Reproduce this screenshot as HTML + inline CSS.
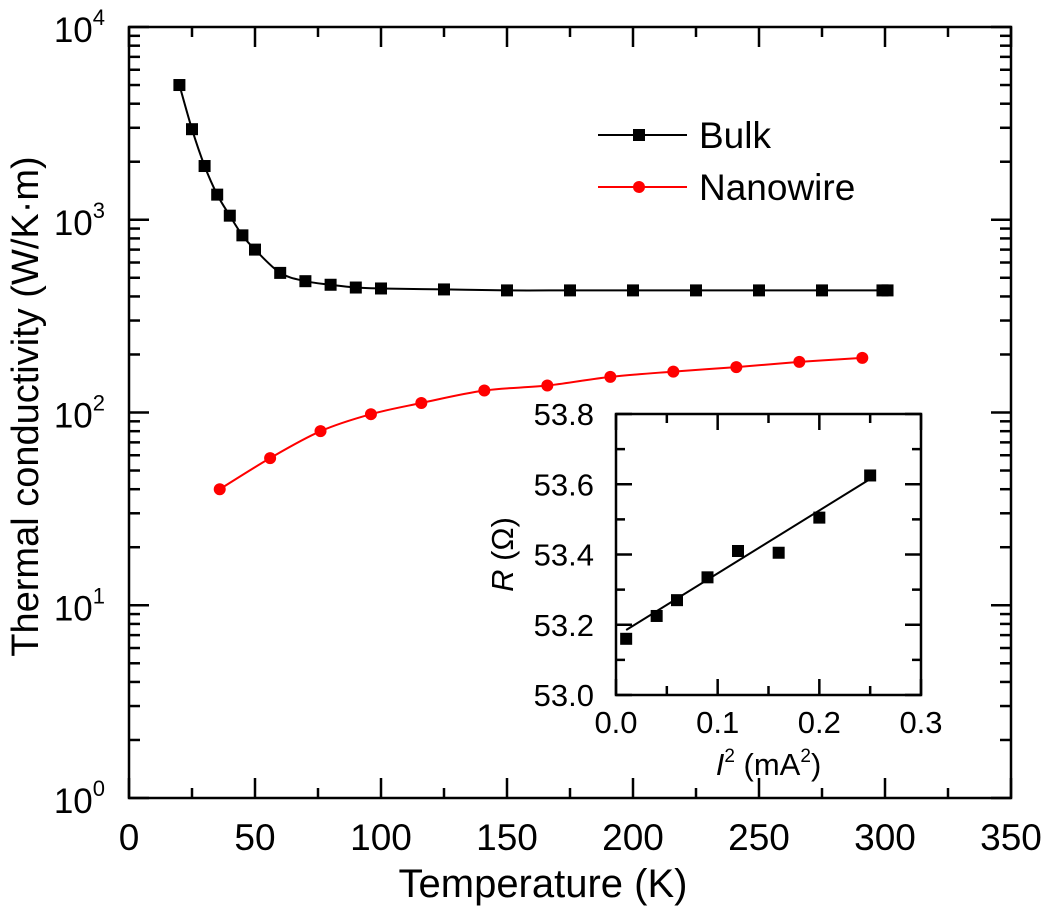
<!DOCTYPE html>
<html><head><meta charset="utf-8"><style>
body{margin:0;background:#fff}
svg{display:block;font-family:"Liberation Sans",Arial,sans-serif}
</style></head><body>
<svg id="chart" width="1050" height="914" viewBox="0 0 1050 914" xmlns="http://www.w3.org/2000/svg">
<g id="main"></g>
<g id="inset"></g>
</svg>
<script>
const bulkT=[20,25,30,35,40,45,50,60,70,80,90,100,125,150,175,200,225,250,275,299,301];
const bulkK=[5000,2950,1900,1350,1050,830,700,530,480,460,445,440,435,430,430,430,430,430,430,430,430];
const nanoT=[36,56,76,96,116,141,166,191,216,241,266,291];
const nanoK=[40,58,80,98,112,130,138,153,163,172,183,192];
const xTicks=[0,50,100,150,200,250,300,350];
const yDecades=[0,1,2,3,4];
const insetX=[0.01,0.04,0.06,0.09,0.12,0.16,0.2,0.25];
const insetR=[53.16,53.225,53.27,53.335,53.41,53.405,53.505,53.625];
const insetFit=[53.185,53.615];
const insetFitX=[0.01,0.25];
const insetXTicks=[0.0,0.1,0.2,0.3];
const insetYTicks=[53.0,53.2,53.4,53.6,53.8];

const NS="http://www.w3.org/2000/svg";
function mk(p,t,a){const e=document.createElementNS(NS,t);for(const k in a)e.setAttribute(k,a[k]);p.appendChild(e);return e;}
const L=129,R=1011,T=27,B=798;
const xs=v=>L+(v/350)*(R-L);
const ys=v=>B-(Math.log10(v)/4)*(B-T);
const main=document.getElementById('main');
let fr=mk(main,'rect',{x:L,y:T,width:R-L,height:B-T,fill:'none',stroke:'#000','stroke-width':2.5});


for(let v=0;v<=350;v+=25){const maj=v%50===0;const len=maj?20:10;
 mk(main,'line',{x1:xs(v),x2:xs(v),y1:B,y2:B-len,stroke:'#000','stroke-width':2.5});
 mk(main,'line',{x1:xs(v),x2:xs(v),y1:T,y2:T+len,stroke:'#000','stroke-width':2.5});}
xTicks.forEach(v=>{const t=mk(main,'text',{x:xs(v),y:B+52,'text-anchor':'middle','font-size':37});t.textContent=v;
 
 });
yDecades.forEach(d=>{const y=ys(Math.pow(10,d));
 mk(main,'line',{x1:L,x2:L+20,y1:y,y2:y,stroke:'#000','stroke-width':2.5});
 mk(main,'line',{x1:R,x2:R-20,y1:y,y2:y,stroke:'#000','stroke-width':2.5});
 if(d<4)for(let m=2;m<=9;m++){const yy=ys(m*Math.pow(10,d));
  mk(main,'line',{x1:L,x2:L+11,y1:yy,y2:yy,stroke:'#000','stroke-width':2.5});
  mk(main,'line',{x1:R,x2:R-11,y1:yy,y2:yy,stroke:'#000','stroke-width':2.5});}
 const t=mk(main,'text',{x:L-24,y:y+15,'text-anchor':'end','font-size':35});
 t.innerHTML='10<tspan dy="-17" font-size="22">'+d+'</tspan>';
 
 });
let xt=mk(main,'text',{x:543,y:897,'text-anchor':'middle','font-size':40});xt.textContent='Temperature (K)';


let yt=mk(main,'text',{x:0,y:0,'text-anchor':'middle','font-size':38,transform:'translate(38,'+((T+B)/2-6)+') rotate(-90)'});yt.textContent='Thermal conductivity (W/K·m)';


function smooth(px){let d='M'+px[0][0]+','+px[0][1];for(let i=0;i<px.length-1;i++){const p0=px[i-1]||px[i],p1=px[i],p2=px[i+1],p3=px[i+2]||p2;
 d+=' C'+(p1[0]+(p2[0]-p0[0])/6)+','+(p1[1]+(p2[1]-p0[1])/6)+' '+(p2[0]-(p3[0]-p1[0])/6)+','+(p2[1]-(p3[1]-p1[1])/6)+' '+p2[0]+','+p2[1];}return d;}
const bp=bulkT.map((t,i)=>[xs(t),ys(bulkK[i])]);
let bl=mk(main,'path',{d:smooth(bp),fill:'none',stroke:'#000','stroke-width':2});


bp.forEach(p=>{const r=mk(main,'rect',{x:p[0]-6,y:p[1]-6,width:12,height:12,fill:'#000'});
 
 });
const np=nanoT.map((t,i)=>[xs(t),ys(nanoK[i])]);
let nl=mk(main,'path',{d:smooth(np),fill:'none',stroke:'#f00','stroke-width':2});


np.forEach(p=>{const c=mk(main,'circle',{cx:p[0],cy:p[1],r:6,fill:'#f00'});
 
 });
const lg=mk(main,'g',{});


mk(lg,'line',{x1:598,x2:687,y1:135,y2:135,stroke:'#000','stroke-width':2});
mk(lg,'rect',{x:633,y:129,width:12,height:12,fill:'#000'});
let lt1=mk(lg,'text',{x:699,y:148,'font-size':37});lt1.textContent='Bulk';


mk(lg,'line',{x1:598,x2:687,y1:187,y2:187,stroke:'#f00','stroke-width':2});
mk(lg,'circle',{cx:639,cy:187,r:6,fill:'#f00'});
let lt2=mk(lg,'text',{x:699,y:200,'font-size':37});lt2.textContent='Nanowire';



const ins=document.getElementById('inset');


const iL=616,iR=921,iT=414,iB=695;
const ix=v=>iL+(v/0.3)*(iR-iL);
const iy=v=>iB-((v-53.0)/0.8)*(iB-iT);
mk(ins,'rect',{x:iL,y:iT,width:iR-iL,height:iB-iT,fill:'#fff',stroke:'#000','stroke-width':2.5});
for(let k=0;k<=6;k++){const v=k*0.05,maj=k%2===0,len=maj?16:9;
 mk(ins,'line',{x1:ix(v),x2:ix(v),y1:iB,y2:iB-len,stroke:'#000','stroke-width':2.5});
 mk(ins,'line',{x1:ix(v),x2:ix(v),y1:iT,y2:iT+len,stroke:'#000','stroke-width':2.5});}
for(let k=0;k<=8;k++){const v=53+k*0.1,maj=k%2===0,len=maj?16:9;
 mk(ins,'line',{x1:iL,x2:iL+len,y1:iy(v),y2:iy(v),stroke:'#000','stroke-width':2.5});
 mk(ins,'line',{x1:iR,x2:iR-len,y1:iy(v),y2:iy(v),stroke:'#000','stroke-width':2.5});}
insetXTicks.forEach(v=>{const t=mk(ins,'text',{x:ix(v),y:iB+38,'text-anchor':'middle','font-size':31});t.textContent=v.toFixed(1);
 
 });
insetYTicks.forEach(v=>{const t=mk(ins,'text',{x:iL-22,y:iy(v)+11,'text-anchor':'end','font-size':31});t.textContent=v.toFixed(1);
 
 });
let ixt=mk(ins,'text',{x:ix(0.15),y:iB+80,'text-anchor':'middle','font-size':31});
ixt.innerHTML='<tspan font-style="italic">I</tspan><tspan dy="-13" font-size="19">2</tspan><tspan dy="13"> (mA</tspan><tspan dy="-13" font-size="19">2</tspan><tspan dy="13">)</tspan>';


let iyt=mk(ins,'text',{x:0,y:0,'text-anchor':'middle','font-size':31,transform:'translate(513,'+((iT+iB)/2)+') rotate(-90)'});
iyt.innerHTML='<tspan font-style="italic">R</tspan> (Ω)';


let fl=mk(ins,'line',{x1:ix(insetFitX[0]),y1:iy(insetFit[0]),x2:ix(insetFitX[1]),y2:iy(insetFit[1]),stroke:'#000','stroke-width':2});


insetX.forEach((v,i)=>{const r=mk(ins,'rect',{x:ix(v)-6,y:iy(insetR[i])-6,width:12,height:12,fill:'#000'});
 
 });
</script>
</body></html>
